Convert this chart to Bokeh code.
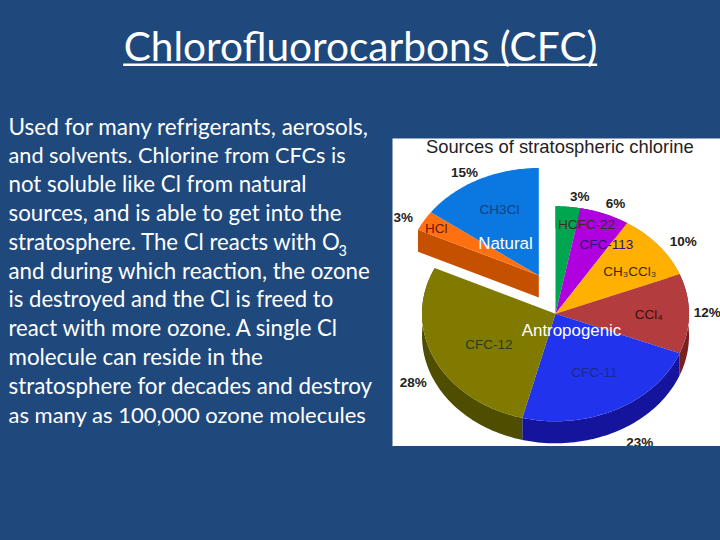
import numpy as np
from bokeh.plotting import figure
from bokeh.models import Range1d
from bokeh.core.properties import value
from bokeh.embed import file_html
from bokeh.resources import INLINE

title_text = "Chlorofluorocarbons (CFC)"
body_lines = [
    "Used for many refrigerants, aerosols,",
    "and solvents. Chlorine from CFCs is",
    "not soluble like Cl from natural",
    "sources, and is able to get into the",
    "stratosphere. The Cl reacts with O",
    "and during which reaction, the ozone",
    "is destroyed and the Cl is freed to",
    "react with more ozone. A single Cl",
    "molecule can reside in the",
    "stratosphere for decades and destroy",
    "as many as 100,000 ozone molecules",
]
body_sizes = ["22.5px", "21.7px", "22.25px", "22.3px", "22.2px", "22.3px",
              "22.1px", "22.15px", "22.35px", "22.35px", "22px"]
chart_title = "Sources of stratospheric chlorine"

anthro_names = ["HCFC-22", "CFC-113", "CH\u2083CCl\u2083", "CCl\u2084", "CFC-11", "CFC-12"]
anthro_values = [3, 6, 10, 12, 23, 28]
natural_names = ["HCl", "CH3Cl"]
natural_values = [3, 15]

anthro_colors = ["#00a550", "#b000e0", "#ffb000", "#b23c3e", "#2233ee", "#807a00"]
anthro_dark = ["#007a3a", "#7a009c", "#b87f00", "#78201f", "#14149c", "#4f4d00"]
natural_colors = ["#ff7010", "#0a78e0"]
natural_wall = "#c45000"

BG = "#1f497d"
LABEL_FONT = value("Liberation Sans")
SLIDE_FONT = value("Lato")

p = figure(width=720, height=540, output_backend="svg", toolbar_location=None,
           x_range=Range1d(0, 720), y_range=Range1d(540, 0), min_border=0)
p.axis.visible = False
p.grid.visible = False
p.outline_line_color = None
p.background_fill_color = BG
p.border_fill_color = BG

# slide text
p.text([360], [44.5], text=[title_text], text_font=SLIDE_FONT, text_font_size="40.6px",
       text_color="white", text_align="center", text_baseline="alphabetic")
p.line([122.7, 596.7], [64.2, 64.2], line_color="white", line_width=2.6)
p.text([8] * len(body_lines), [125.5 + 28.8 * i for i in range(len(body_lines))], text=body_lines,
       text_font=SLIDE_FONT, text_font_size=body_sizes, text_color="white",
       text_align="left", text_baseline="alphabetic")
p.text([338], [249.5], text=["3"], text_font=SLIDE_FONT, text_font_size="14.5px",
       text_color="white", text_align="left", text_baseline="alphabetic")

# white panel
p.quad(left=[392], right=[720], top=[138], bottom=[446], fill_color="white", line_color=None)

RX, RY, DEPTH = 133.5, 107.5, 22


def arc(cx, cy, a0, a1):
    t = np.radians(np.linspace(a0, a1, 60) * 3.6)
    return cx + RX * np.sin(t), cy - RY * np.cos(t)


# anthropogenic pie
cx, cy = 555, 313.3
edges = np.concatenate([[0], np.cumsum(anthro_values)])
for i in range(len(anthro_values)):
    x, y = arc(cx, cy, edges[i], edges[i + 1])
    p.patch(np.r_[x, x[::-1]], np.r_[y, y[::-1] + DEPTH], fill_color=anthro_dark[i], line_color=None)
for i in range(len(anthro_values)):
    x, y = arc(cx, cy, edges[i], edges[i + 1])
    p.patch(np.r_[cx, x], np.r_[cy, y], fill_color=anthro_colors[i], line_color=None)

# exploded natural wedge
nx, ny = 538.3, 275
start = sum(anthro_values)
nedges = start + np.concatenate([[0], np.cumsum(natural_values)])
wx, wy = arc(nx, ny, nedges[0], nedges[0])
p.patch([nx, wx[0], wx[0], nx], [ny, wy[0], wy[0] + DEPTH, ny + DEPTH], fill_color=natural_wall, line_color=None)
for i in range(len(natural_values)):
    x, y = arc(nx, ny, nedges[i], nedges[i + 1])
    p.patch(np.r_[nx, x], np.r_[ny, y], fill_color=natural_colors[i], line_color=None)

# chart title
p.text([559.3], [145.7], text=[chart_title], text_font=LABEL_FONT, text_font_size="18.4px",
       text_color="#222222", text_align="center", text_baseline="middle")

# percentage labels
pct_text = [f"{v}%" for v in natural_values[::-1]] + [f"{v}%" for v in anthro_values]
pct_x = [464, 402.7, 579.3, 615, 682.7, 706.7, 639.3, 412.7]
pct_y = [171.7, 217.3, 196, 202.7, 240.7, 312.3, 441.7, 381.7]
p.text(pct_x, pct_y, text=pct_text, text_font=LABEL_FONT, text_font_size="13.5px",
       text_font_style="bold", text_color="#222222", text_align="center", text_baseline="middle")

# slice labels
label_x = [586, 606, 629.3, 648.3, 594, 488.3, 435.7, 499]
label_y = [224.3, 244, 271, 314.3, 372.3, 344.3, 227.7, 209.3]
label_colors = ["#30302a", "#30107a", "#3a2a00", "#3a1010", "#1a2a8a", "#2c3a20", "#6a1a00", "#14407f"]
p.text(label_x, label_y, text=anthro_names + natural_names, text_font=LABEL_FONT, text_font_size="13.5px",
       text_color=label_colors, text_align="center", text_baseline="middle")
p.text([505, 571], [243.3, 330], text=["Natural", "Antropogenic"], text_font=LABEL_FONT,
       text_font_size="16.9px", text_color="white", text_align="center", text_baseline="middle")

# slide background below the panel crops the picture
p.quad(left=[392], right=[720], top=[445.5], bottom=[460], fill_color=BG, line_color=None)

html = file_html(p, INLINE).replace("<body>", f'<body style="background:{BG};overflow:hidden">')
open("out.html", "w", encoding="utf-8").write(html)
